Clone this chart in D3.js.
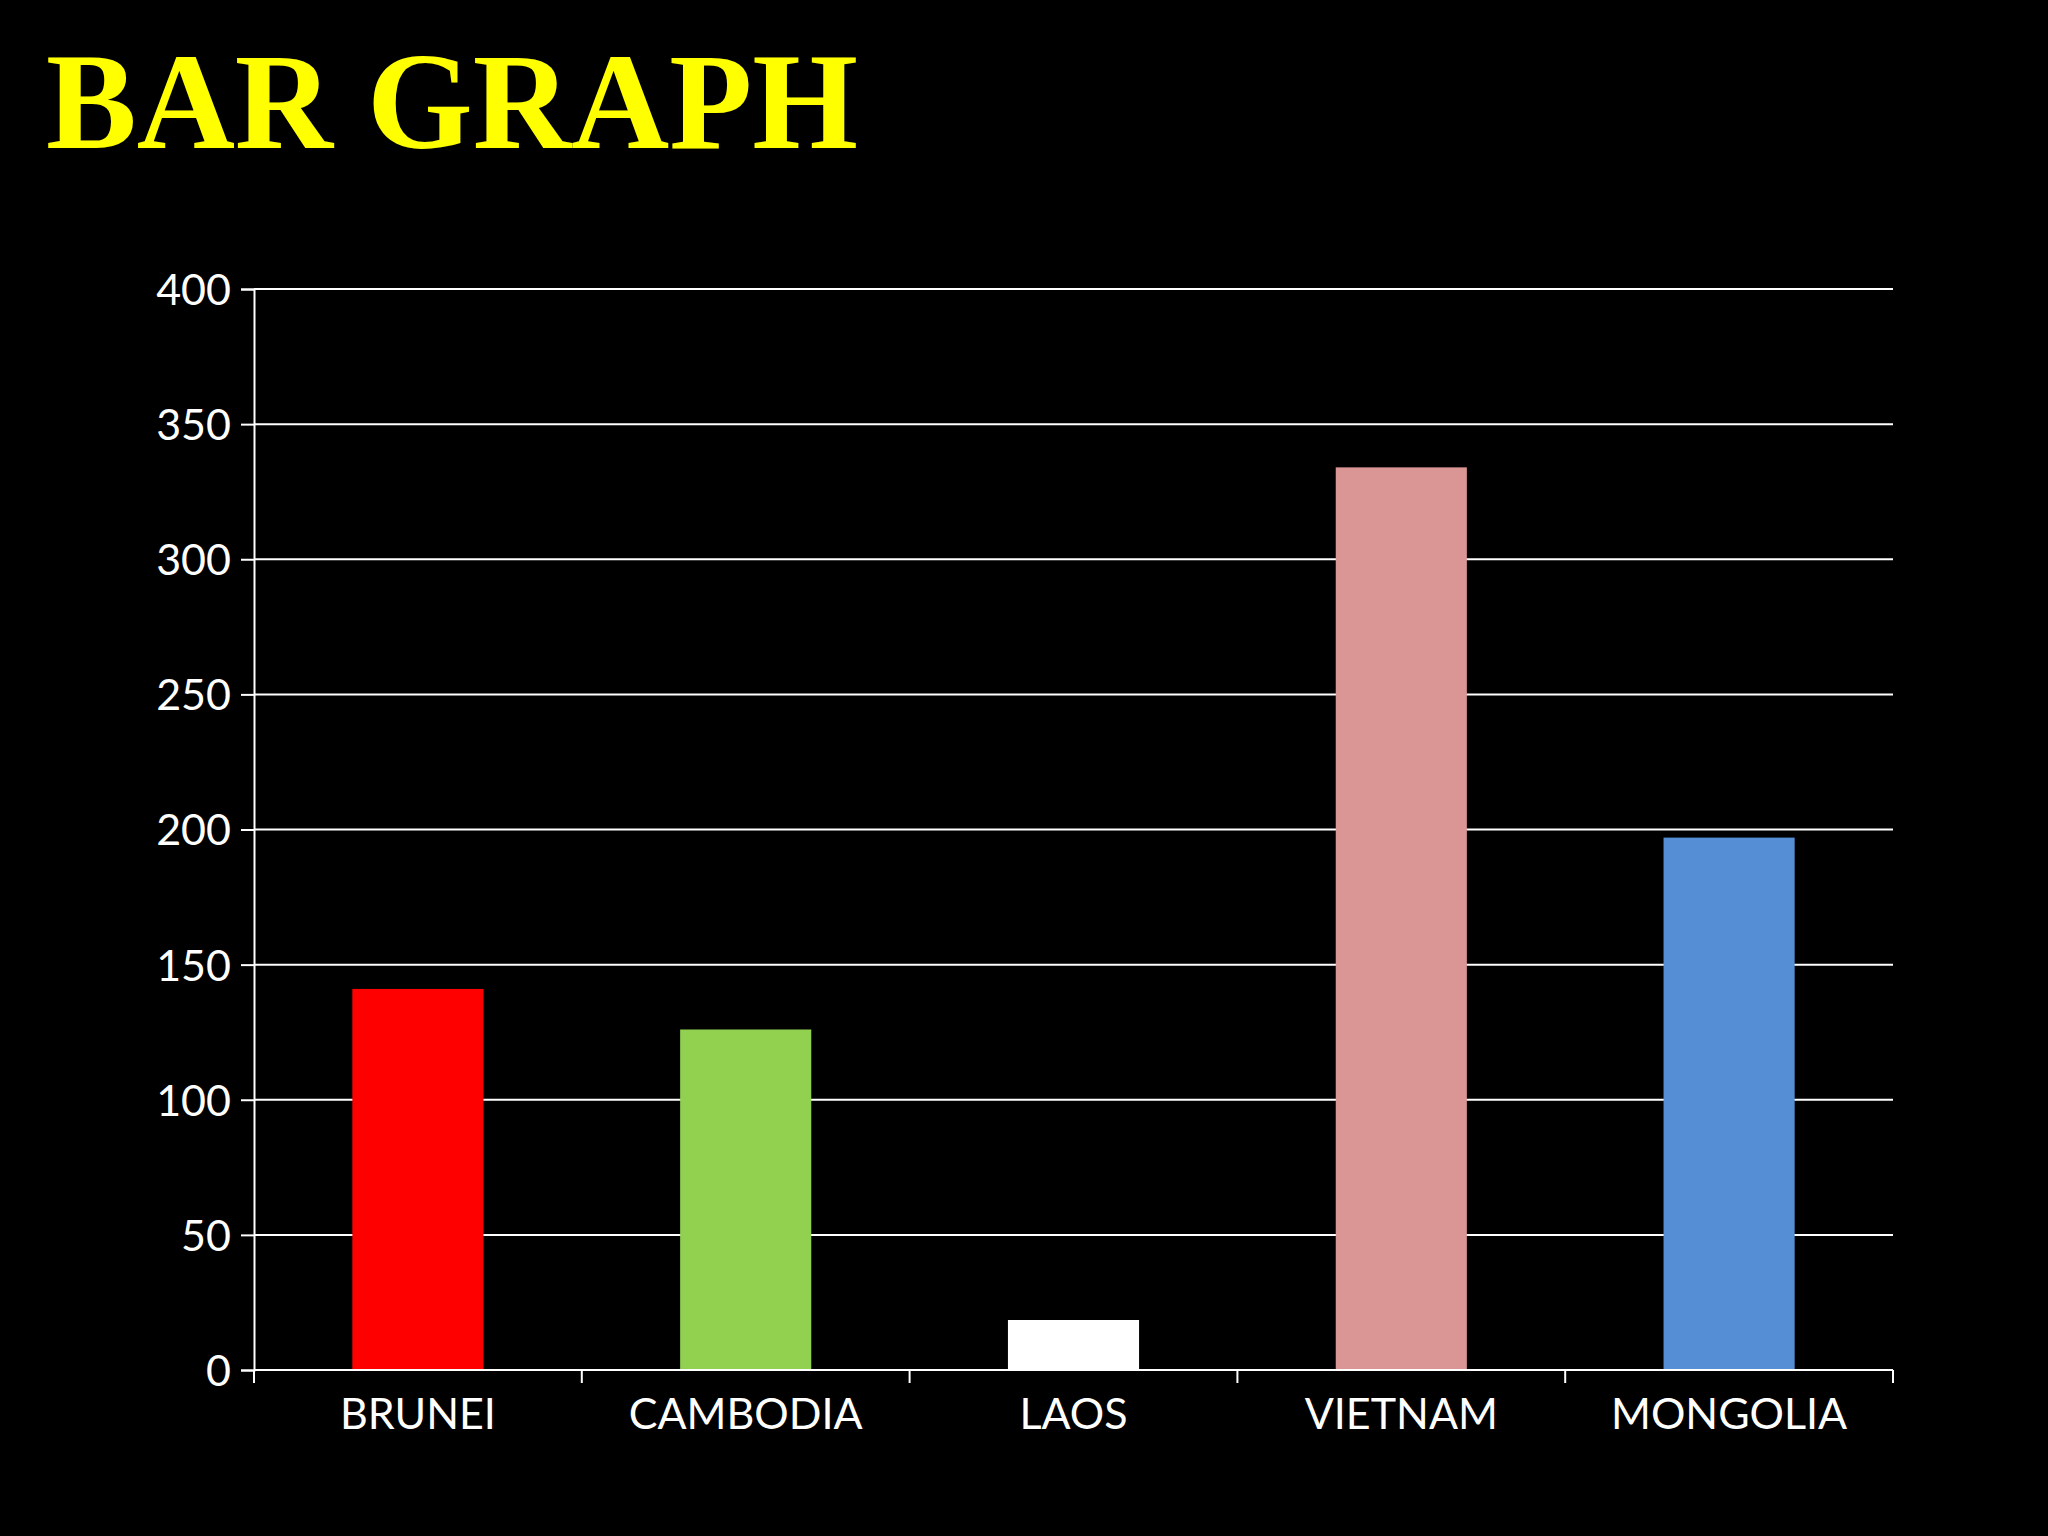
<!DOCTYPE html>
<html>
<head>
<meta charset="utf-8">
<script src="https://cdn.jsdelivr.net/npm/d3@7"></script>
<style>
  html, body { margin: 0; padding: 0; background: #000; }
  svg { display: block; }
</style>
</head>
<body>
<svg id="chart"></svg>
<script>
var width = 2048,
    height = 1536;

// data
var countries = ["BRUNEI", "CAMBODIA", "LAOS", "VIETNAM", "MONGOLIA"];
var values = [141, 126, 18.5, 334, 197];
var colors = ["#ff0000", "#92d050", "#ffffff", "#d99694", "#558ed5"];
var yTicks = [0, 50, 100, 150, 200, 250, 300, 350, 400];

var svg = d3.select("#chart")
    .attr("width", width)
    .attr("height", height)
    .style("background", "#000");

svg.append("rect").attr("width", width).attr("height", height).attr("fill", "#000");

// title
svg.append("text")
    .attr("x", 46)
    .attr("y", 148)
    .attr("textLength", 812)
    .attr("lengthAdjust", "spacingAndGlyphs")
    .style("font-family", "'Liberation Serif', 'DejaVu Serif', serif")
    .style("font-weight", "bold")
    .style("font-size", "138px")
    .style("fill", "#ffff00")
    .text("BAR GRAPH");

// plot box (window.top is read-only, so no "top" here)
var plotLeft = 254, plotRight = 1893, plotTop = 289, plotBottom = 1370;

var x = d3.scaleBand()
    .domain(countries)
    .range([plotLeft, plotRight])
    .paddingInner(0.6)
    .paddingOuter(0.3);

var y = d3.scaleLinear()
    .domain([0, 400])
    .range([plotBottom, plotTop]);

var g = svg.append("g");

// gridlines
g.append("g").selectAll("line")
    .data(yTicks.filter(function(d) { return d > 0; }))
    .enter().append("line")
    .attr("x1", plotLeft).attr("x2", plotRight)
    .attr("y1", function(d) { return y(d); })
    .attr("y2", function(d) { return y(d); })
    .attr("stroke", "#fff")
    .attr("stroke-width", 2);

// y axis
var yAxis = g.append("g")
    .attr("transform", "translate(" + plotLeft + ",0)")
    .call(d3.axisLeft(y).tickValues(yTicks).tickSize(13).tickPadding(10));
yAxis.select(".domain").attr("stroke", "#fff").attr("stroke-width", 2);
yAxis.selectAll(".tick line").attr("stroke", "#fff").attr("stroke-width", 2);
yAxis.selectAll(".tick text")
    .style("font-family", "Lato, 'Open Sans', sans-serif")
    .style("font-size", "43px")
    .style("fill", "#fff")
    .attr("dy", "0.36em");

// bars
g.selectAll("rect.bar")
    .data(values)
    .enter().append("rect")
    .attr("class", "bar")
    .attr("x", function(d, i) { return x(countries[i]); })
    .attr("width", x.bandwidth())
    .attr("y", function(d) { return y(d); })
    .attr("height", function(d) { return plotBottom - y(d); })
    .attr("fill", function(d, i) { return colors[i]; });

// x axis with ticks at band boundaries
var step = (plotRight - plotLeft) / countries.length;
var bounds = d3.range(countries.length + 1).map(function(i) { return plotLeft + i * step; });

g.append("line")
    .attr("x1", plotLeft).attr("x2", plotRight)
    .attr("y1", plotBottom).attr("y2", plotBottom)
    .attr("stroke", "#fff").attr("stroke-width", 2);

g.selectAll("line.xtick")
    .data(bounds)
    .enter().append("line")
    .attr("class", "xtick")
    .attr("x1", function(d) { return d; }).attr("x2", function(d) { return d; })
    .attr("y1", plotBottom).attr("y2", plotBottom + 13)
    .attr("stroke", "#fff").attr("stroke-width", 2);

g.selectAll("text.xlabel")
    .data(countries)
    .enter().append("text")
    .attr("class", "xlabel")
    .attr("x", function(d) { return x(d) + x.bandwidth() / 2; })
    .attr("y", 1429)
    .attr("text-anchor", "middle")
    .style("font-family", "Lato, 'Open Sans', sans-serif")
    .style("font-size", "43px")
    .style("fill", "#fff")
    .text(function(d) { return d; });
</script>
</body>
</html>
